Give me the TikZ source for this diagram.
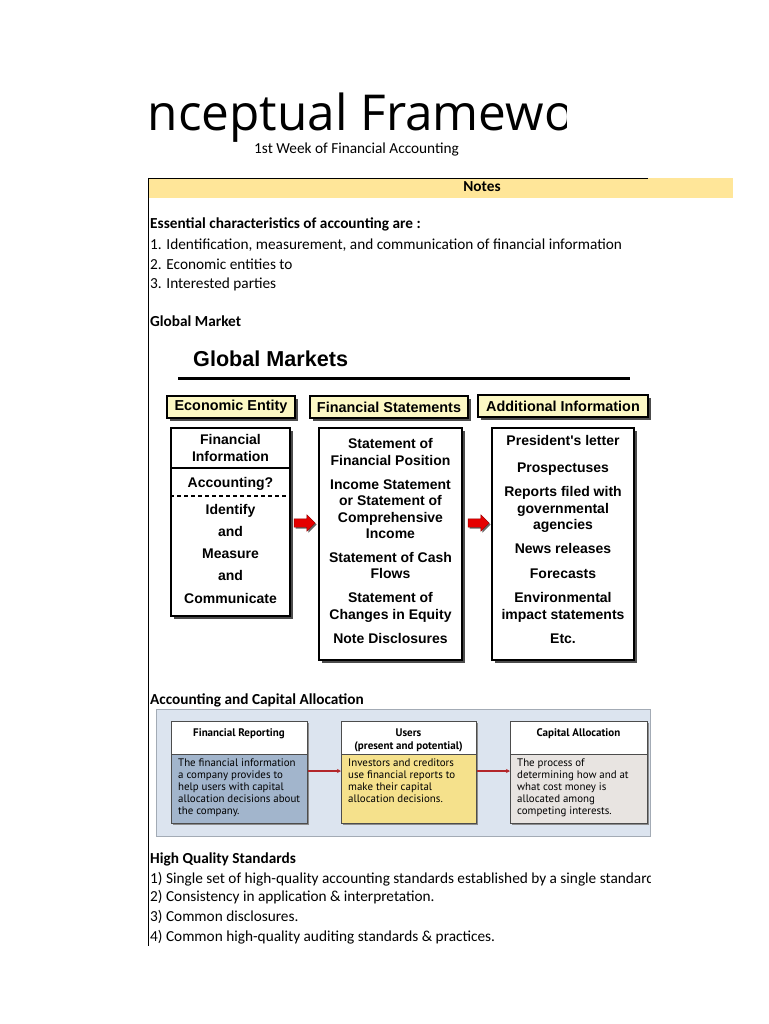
\documentclass[tikz,border=0pt]{standalone}
\usepackage{fontspec}
\setmainfont{Carlito}
\newfontfamily\arialf{Liberation Sans}
\newfontfamily\titlef{Open Sans}
\newfontfamily\srcf{PT Sans}
\usetikzlibrary{shapes.arrows,shadows,arrows.meta}
\definecolor{notesyellow}{HTML}{FFE699}
\definecolor{hdryellow}{HTML}{FCF8C4}
\definecolor{capbg}{HTML}{DCE4EF}
\definecolor{capborder}{HTML}{A3ABB5}
\definecolor{frblue}{HTML}{A2B5CC}
\definecolor{usyellow}{HTML}{F5E18C}
\definecolor{cagray}{HTML}{E8E4E1}
\definecolor{arrowred}{HTML}{B3262A}
\tikzset{
  body/.style={font=\fontsize{15.3}{18}\selectfont, inner sep=0pt},
  bodyb/.style={body, font=\bfseries\fontsize{15.3}{18}\selectfont},
  gmshadow/.style={drop shadow={shadow xshift=3pt, shadow yshift=-3pt, fill=black!70, opacity=1}},
  gmhdr/.style={draw, line width=1.3pt, fill=hdryellow, gmshadow, inner sep=0pt,
    font=\arialf\bfseries\fontsize{14.4}{16}\selectfont},
  gmbox/.style={draw, line width=1.3pt, fill=white, gmshadow, inner sep=0pt},
  gmtext/.style={inner sep=0pt, align=center, font=\arialf\bfseries\fontsize{14}{16.5}\selectfont},
  redarrow/.style={single arrow, fill=red!90!black, draw=red!60!black, line width=0.4pt,
    inner sep=4pt, minimum height=21pt, single arrow head extend=4pt,
    drop shadow={shadow xshift=1.5pt, shadow yshift=-1.5pt, fill=black!60, opacity=1}},
  caphead/.style={draw=black!70, line width=0.8pt, fill=white, inner sep=0pt,
    font=\srcf\bfseries\fontsize{11}{13}\selectfont, align=center},
  capbody/.style={draw=black!70, line width=0.8pt, inner sep=0pt},
  captext/.style={inner sep=0pt, align=left, anchor=north west,
    font=\srcf\fontsize{10.9}{12}\selectfont},
  capline/.style={draw=arrowred, line width=1.4pt, -{Stealth[length=4pt,width=4pt]}}
}
\begin{document}
\begin{tikzpicture}[x=1pt,y=-1pt]
\useasboundingbox (0,0) rectangle (768,1024);
\fill[white] (0,0) rectangle (768,1024);

% Title (clipped)
\begin{scope}
\clip (149,70) rectangle (566,145);
\node[anchor=base west, inner sep=0pt, font=\titlef\fontsize{49.5}{52}\selectfont] (title) at (147.5,131) {nceptual Framework};
\end{scope}
\node[body, anchor=base west] (subtitle) at (254,154) {1st Week of Financial Accounting};

% Notes bar
\fill[notesyellow] (148,178) rectangle (733,198);
\draw[line width=0.9pt] (148,178) -- (648,178);
\draw[line width=0.9pt] (148,178) -- (148,946);
\node[bodyb] (notes) at (482,187) {Notes};

% Essential characteristics
\node[bodyb, anchor=base west] (ess) at (150,229) {Essential characteristics of accounting are :};
\node[body, anchor=base west] (e1) at (150,249) {1. Identification, measurement, and communication of financial information};
\node[body, anchor=base west] (e2) at (150,269) {2. Economic entities to};
\node[body, anchor=base west] (e3) at (150,288) {3. Interested parties};
\node[bodyb, anchor=base west] (gm) at (150,326) {Global Market};

% Global markets figure
\node[anchor=base west, inner sep=0pt, font=\arialf\bfseries\fontsize{21.6}{24}\selectfont] (gmtitle) at (193,366) {Global Markets};
\draw[line width=3pt] (178,378) -- (630,378);

\node[gmhdr, minimum width=128pt, minimum height=22pt] (ee) at (231,407) {Economic Entity};
\node[gmhdr, minimum width=158pt, minimum height=22pt] (fs) at (389,407) {Financial Statements};
\node[gmhdr, minimum width=170pt, minimum height=22pt] (ai) at (563,406) {Additional Information};

\node[gmbox, minimum width=119pt, minimum height=188pt] (fib) at (230.5,522) {};
\node[gmbox, minimum width=143pt, minimum height=232pt] (fsb) at (390.5,544) {};
\node[gmbox, minimum width=142pt, minimum height=232pt] (aib) at (563,544) {};

\draw[line width=1.2pt] (fib.west |- 0,468) -- (fib.east |- 0,468);
\draw[line width=1.2pt, dash pattern=on 4pt off 3pt] (fib.west |- 0,496) -- (fib.east |- 0,496);

\node[gmtext, anchor=base] (fitext) at (230.5,461) {Financial\\Information};
\node[gmtext, anchor=base] (acctext) at (230.5,487) {Accounting?};
\node[gmtext, anchor=base, font=\arialf\bfseries\fontsize{14}{22.2}\selectfont] (idtext) at (230.5,603) {Identify\\and\\Measure\\and\\Communicate};

\node[gmtext, anchor=base] (fstext) at (390.5,643) {Statement of\\Financial Position\\[7.5pt]Income Statement\\or Statement of\\Comprehensive\\Income\\[7pt]Statement of Cash\\Flows\\[7.5pt]Statement of\\Changes in Equity\\[7.5pt]Note Disclosures};

\node[gmtext, anchor=base] (aitext) at (563,643) {President's letter\\[10.5pt]Prospectuses\\[7.5pt]Reports filed with\\governmental\\agencies\\[7.5pt]News releases\\[8.5pt]Forecasts\\[7.5pt]Environmental\\impact statements\\[7.5pt]Etc.};

\node[redarrow] (arr1) at (302.5,523) {};
\node[redarrow] (arr2) at (476.5,523) {};

% Accounting and capital allocation
\node[bodyb, anchor=base west] (aca) at (150,704) {Accounting and Capital Allocation};
\filldraw[fill=capbg, draw=capborder, line width=1pt] (156,709) rectangle (650,836);

% Financial Reporting
\fill[black!45] (173,723) rectangle (309,825);
\node[capbody, fill=frblue, minimum width=136pt, minimum height=69pt, anchor=north west] (frb) at (171,754) {};
\node[caphead, minimum width=136pt, minimum height=33pt, anchor=north west] (frh) at (171,721) {};
\node[caphead, draw=none, fill=none, anchor=base] (frht) at (239,736) {Financial Reporting};
\node[captext] (frt) at (178,759) {The financial information\\a company provides to\\help users with capital\\allocation decisions about\\the company.};

% Users
\fill[black!45] (343,723) rectangle (478,825);
\node[capbody, fill=usyellow, minimum width=135pt, minimum height=69pt, anchor=north west] (usb) at (341,754) {};
\node[caphead, minimum width=135pt, minimum height=33pt, anchor=north west] (ush) at (341,721) {};
\node[caphead, draw=none, fill=none, anchor=base] (usht) at (408.5,749) {Users\\(present and potential)};
\node[captext] (ust) at (348,759) {Investors and creditors\\use financial reports to\\make their capital\\allocation decisions.};

% Capital Allocation
\fill[black!45] (512,723) rectangle (649,825);
\node[capbody, fill=cagray, minimum width=137pt, minimum height=69pt, anchor=north west] (cab) at (510,754) {};
\node[caphead, minimum width=137pt, minimum height=33pt, anchor=north west] (cah) at (510,721) {};
\node[caphead, draw=none, fill=none, anchor=base] (caht) at (578.5,736) {Capital Allocation};
\node[captext] (cat) at (517,759) {The process of\\determining how and at\\what cost money is\\allocated among\\competing interests.};

\draw[capline] (frb.east |- 0,771) -- (usb.west |- 0,771);
\draw[capline] (usb.east |- 0,771) -- (cab.west |- 0,771);

% High quality standards
\node[bodyb, anchor=base west] (hqs) at (150,863) {High Quality Standards};
\begin{scope}
\clip (149,866) rectangle (650,950);
\node[body, anchor=base west] (h1) at (150,883) {1) Single set of high-quality accounting standards established by a single standard-setting body.};
\end{scope}
\node[body, anchor=base west] (h2) at (150,901) {2) Consistency in application \& interpretation.};
\node[body, anchor=base west] (h3) at (150,921) {3) Common disclosures.};
\node[body, anchor=base west] (h4) at (150,941) {4) Common high-quality auditing standards \& practices.};
\end{tikzpicture}
\end{document}
